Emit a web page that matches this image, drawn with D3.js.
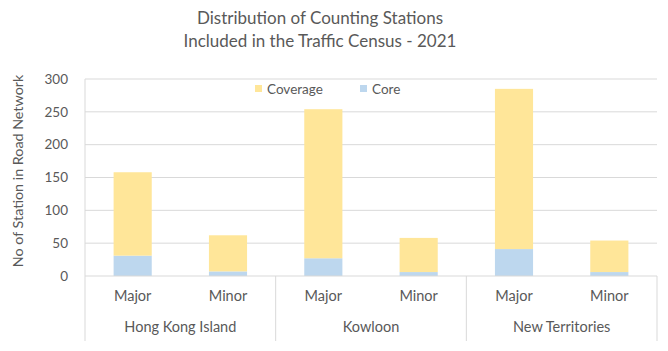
<!DOCTYPE html>
<html>
<head>
<meta charset="utf-8">
<script src="https://cdn.jsdelivr.net/npm/d3@7"></script>
<style>
  body { margin: 0; background: #fff; }
  svg text { font-family: Lato, "Open Sans", sans-serif; fill: #595959; }
</style>
</head>
<body>
<div id="chart"></div>
<script>
// Data
const regions = ['Hong Kong Island', 'Kowloon', 'New Territories'];
const roadTypes = ['Major', 'Minor'];
const coreValues = [31, 7, 27, 6, 41, 6];
const coverageValues = [127, 55, 227, 52, 244, 48];
const yTicks = [0, 50, 100, 150, 200, 250, 300];
const seriesNames = ['Coverage', 'Core'];
const seriesColors = { Coverage: '#ffe699', Core: '#bdd7ee' };

const W = 668, H = 351;
const margin = { top: 79, right: 11, bottom: 75, left: 85 };
const width = W - margin.left - margin.right;
const height = H - margin.top - margin.bottom;

const svg = d3.select('#chart').append('svg')
  .attr('width', W).attr('height', H);

// Title
svg.append('text')
  .attr('x', 320).attr('y', 24)
  .attr('text-anchor', 'middle')
  .style('font-size', '17px')
  .text('Distribution of Counting Stations');
svg.append('text')
  .attr('x', 320).attr('y', 47)
  .attr('text-anchor', 'middle')
  .style('font-size', '17px')
  .text('Included in the Traffic Census - 2021');

const g = svg.append('g').attr('transform', `translate(${margin.left},${margin.top})`);

// Build rows
const rows = [];
regions.forEach((r, i) => roadTypes.forEach((t, j) => {
  const k = i * roadTypes.length + j;
  rows.push({ key: r + '|' + t, region: r, type: t, Core: coreValues[k], Coverage: coverageValues[k] });
}));

const x = d3.scaleBand().domain(rows.map(d => d.key)).range([0, width]).paddingInner(0.6).paddingOuter(0.3);
const xGroup = d3.scaleBand().domain(regions).range([0, width]);
const y = d3.scaleLinear().domain([0, 300]).range([height, 0]);

// Grid
g.append('g')
  .selectAll('line').data(yTicks.filter(d => d > 0)).join('line')
  .attr('x1', 0).attr('x2', width)
  .attr('y1', d => y(d)).attr('y2', d => y(d))
  .attr('stroke', '#d9d9d9').attr('stroke-width', 1);

// Y axis labels
g.append('g')
  .selectAll('text').data(yTicks).join('text')
  .attr('x', -17).attr('y', d => y(d))
  .attr('dy', '0.35em')
  .attr('text-anchor', 'end')
  .style('font-size', '13.5px')
  .text(d => d);

// Stacked bars
const stack = d3.stack().keys(['Core', 'Coverage'])(rows);
g.append('g').selectAll('g').data(stack).join('g')
  .attr('fill', d => seriesColors[d.key])
  .selectAll('rect').data(d => d).join('rect')
  .attr('x', d => x(d.data.key))
  .attr('width', x.bandwidth())
  .attr('y', d => y(d[1]))
  .attr('height', d => y(d[0]) - y(d[1]));

// X axis line and group separators
g.append('line')
  .attr('x1', 0).attr('x2', width)
  .attr('y1', height).attr('y2', height)
  .attr('stroke', '#d9d9d9');
g.append('line')
  .attr('x1', 0).attr('x2', 0)
  .attr('y1', 0).attr('y2', height)
  .attr('stroke', '#d9d9d9');
const seps = regions.map(r => xGroup(r)).concat([width]);
g.append('g').selectAll('line').data(seps).join('line')
  .attr('x1', d => d).attr('x2', d => d)
  .attr('y1', height).attr('y2', height + 65)
  .attr('stroke', '#d9d9d9');

// Category labels
g.append('g').selectAll('text').data(rows).join('text')
  .attr('x', d => x(d.key) + x.bandwidth() / 2)
  .attr('y', height + 25)
  .attr('text-anchor', 'middle')
  .style('font-size', '14.5px')
  .text(d => d.type);
g.append('g').selectAll('text').data(regions).join('text')
  .attr('x', d => xGroup(d) + xGroup.bandwidth() / 2)
  .attr('y', height + 56)
  .attr('text-anchor', 'middle')
  .style('font-size', '14.5px')
  .text(d => d);

// Y axis title
svg.append('text')
  .attr('transform', 'translate(23,171) rotate(-90)')
  .attr('text-anchor', 'middle')
  .style('font-size', '14.3px')
  .text('No of Station in Road Network');

// Legend
const legendX = [255, 360];
const legend = svg.append('g').selectAll('g').data(seriesNames).join('g')
  .attr('transform', (d, i) => `translate(${legendX[i]},85)`);
legend.append('rect')
  .attr('width', 7).attr('height', 7)
  .attr('fill', d => seriesColors[d]);
legend.append('text')
  .attr('x', 12).attr('y', 4)
  .attr('dy', '0.35em')
  .style('font-size', '13.5px')
  .text(d => d);
</script>
</body>
</html>
